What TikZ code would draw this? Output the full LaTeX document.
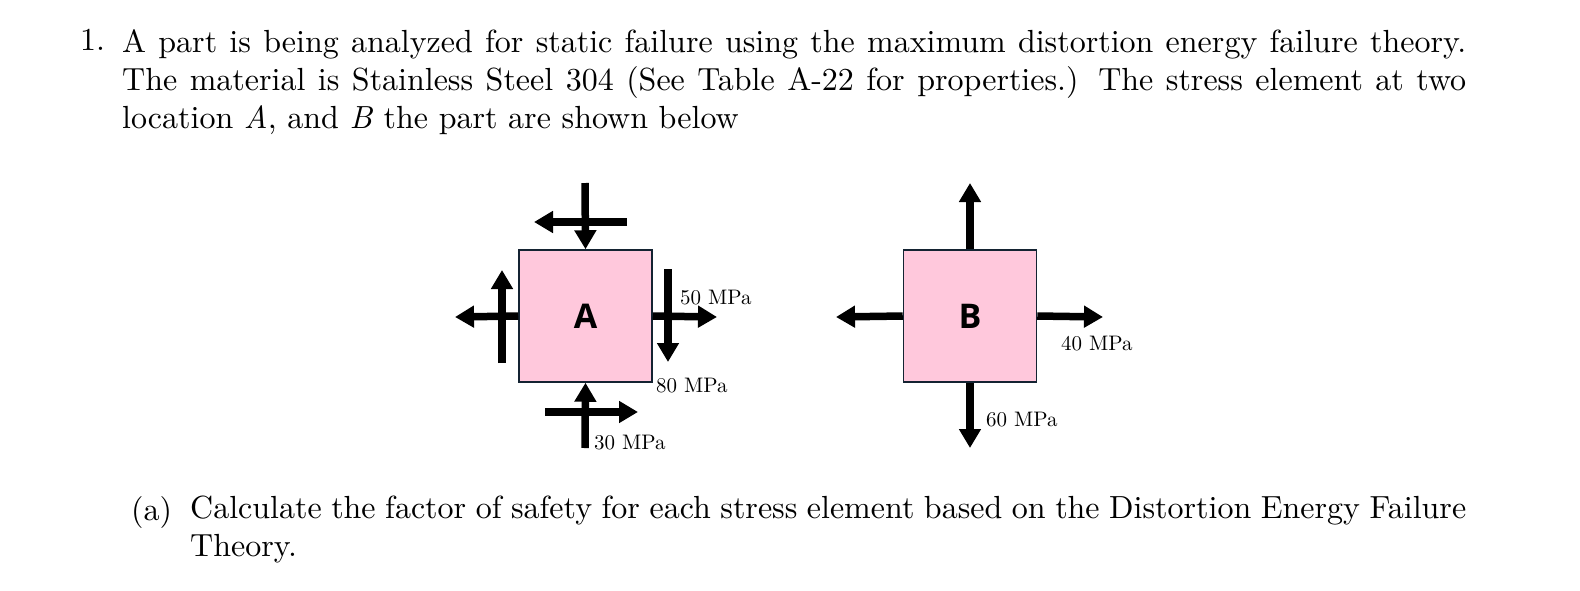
\documentclass[tikz,border=0pt]{standalone}
\usepackage{fontspec}
\setmainfont{lmroman10-regular.otf}[ItalicFont=lmroman10-italic.otf,BoldFont=lmroman10-bold.otf]
\newfontfamily\boxfont{Open Sans}
\usetikzlibrary{arrows.meta}
\definecolor{boxpink}{RGB}{255,200,220}
\definecolor{boxedge}{RGB}{20,35,50}
\tikzset{
  elem/.style={draw=boxedge,line width=1.5pt,fill=boxpink,minimum width=133pt,minimum height=132pt,inner sep=0pt,font=\boxfont\bfseries\fontsize{34}{40}\selectfont},
  force/.style={line width=7.5pt,-{Triangle[length=19pt,width=21pt]}},
  lab/.style={anchor=west,inner sep=0pt,font=\fontsize{21}{24}\selectfont},
  para/.style={anchor=north west,inner sep=0pt,align=justify,font=\fontsize{32}{38}\selectfont}
}
\begin{document}
\begin{tikzpicture}[x=1pt,y=-1pt]
\useasboundingbox (0,0) rectangle (1580,590);
\node[anchor=north west,inner sep=0pt,font=\fontsize{32}{38}\selectfont] (num) at (80,29) {1.};
\node[para,text width=1344pt] (q) at (122,29) {A part is being analyzed for static failure using the maximum distortion energy failure theory. The material is Stainless Steel 304 (See Table A-22 for properties.) The stress element at two location \textit{A}, and \textit{B} the part are shown below};
\node[anchor=north west,inner sep=0pt,font=\fontsize{32}{38}\selectfont] (pa) at (131,496) {(a)};
\node[para,text width=1276pt] (qa) at (190,496) {Calculate the factor of safety for each stress element based on the Distortion Energy Failure Theory.};

% element A
\node[elem] (A) at (585.5,316) {A};
\coordinate (At0) at (585,183);
\draw[force] (At0) -- (A.north);
\coordinate (Ah0) at (627,222); \coordinate (Ah1) at (534,222);
\draw[force] (Ah0) -- (Ah1);
\coordinate (Al) at (455,317);
\draw[force] (A.west) -- (Al);
\coordinate (Alv0) at (502,363); \coordinate (Alv1) at (502,270);
\draw[force] (Alv0) -- (Alv1);
\coordinate (Ar) at (717,317);
\draw[force] (A.east) -- (Ar);
\coordinate (Arv0) at (668,269); \coordinate (Arv1) at (668,362);
\draw[force] (Arv0) -- (Arv1);
\coordinate (Ab0) at (585,448);
\draw[force] (Ab0) -- (A.south);
\coordinate (Abh0) at (545,412); \coordinate (Abh1) at (638,412);
\draw[force] (Abh0) -- (Abh1);
\node[lab] (l50) at (680,298) {50 MPa};
\node[lab] (l80) at (656,386) {80 MPa};
\node[lab] (l30) at (594,443) {30 MPa};

% element B
\node[elem] (B) at (970,316) {B};
\coordinate (Bt) at (970,183);
\draw[force] (B.north) -- (Bt);
\coordinate (Bl) at (836,317);
\draw[force] (B.west) -- (Bl);
\coordinate (Br) at (1103,317);
\draw[force] (B.east) -- (Br);
\coordinate (Bb) at (970,448);
\draw[force] (B.south) -- (Bb);
\node[lab] (l40) at (1061,344) {40 MPa};
\node[lab] (l60) at (986,420) {60 MPa};
\end{tikzpicture}
\end{document}
